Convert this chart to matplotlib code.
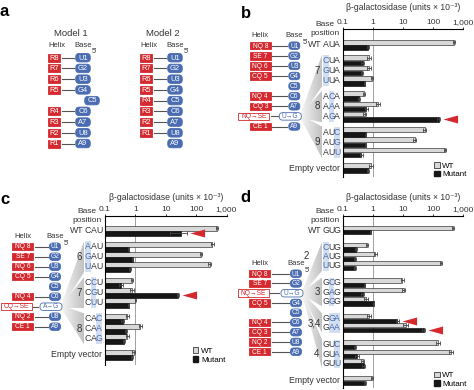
import matplotlib
matplotlib.use("Agg")
import matplotlib.pyplot as plt
import matplotlib.transforms as mtransforms
from matplotlib.patches import FancyBboxPatch, Rectangle, Polygon, Patch
from matplotlib.colors import LinearSegmentedColormap
from matplotlib.ticker import NullLocator
import numpy as np

plt.rcParams['font.family'] = ['Liberation Sans', 'DejaVu Sans']

W, H = 474, 390
RED = '#d42a2f'
BLUE = '#4a6cb1'
LIGHTBLUE = '#d3dff1'
DARK = '#333333'
WT_COLOR = '#d8d8d8'
MUT_COLOR = '#161616'

# ---------------- data ----------------
a_bases = ["U1", "G2", "U3", "G4", "C5", "C6", "A7", "U8", "A9"]
a_model1 = ["R8", "R7", "R6", "R5", "", "R4", "R3", "R2", "R1"]
a_model2 = ["R8", "R7", "R6", "R5", "R4", "R3", "R2", "R1", ""]

# panel b: start codon AUA, mutation U8 -> G
b_helix = ["NQ 8", "SE 7", "NQ 6", "CQ 5", "", "NQ 4", "CQ 3", "NQ→SE", "CE 1"]
b_bases = ["U1", "G2", "U3", "G4", "C5", "C6", "A7", "U→G", "A9"]
b_codons = ["AUA", "CUA", "GUA", "UUA", "ACA", "AAA", "AGA", "AUC", "AUG", "AUU", "Empty vector"]
b_groups = ["WT", "7", "7", "7", "8", "8", "8", "9", "9", "9", "EV"]
b_wt = [490, 0.74, 0.74, 0.93, 0.50, 1.47, 0.53, 53, 24.5, 245, 0.88]
b_wt_err = [40, 0.10, 0.10, 0.07, 0.05, 0.20, 0.05, 5, 2.5, 20, 0.12]
b_mut = [0.68, 0.46, 0.44, 0.53, 0.34, 0.60, 155, 0.57, 0.57, 0.41, 0.68]
b_mut_err = [0.04, 0.06, 0.04, 0.03, 0.03, 0.06, 15, 0.03, 0.03, 0.05, 0.05]
b_arrows = [6]
b_hilite = {"7": [0], "8": [1], "9": [2]}

# panel c: start codon CAU, mutation A7 -> G
c_helix = ["NQ 8", "SE 7", "NQ 6", "CQ 5", "", "NQ 4", "CQ→SE", "NQ 2", "CE 1"]
c_bases = ["U1", "G2", "U3", "G4", "C5", "C6", "A→G", "U8", "A9"]
c_codons = ["CAU", "AAU", "GAU", "UAU", "CCU", "CGU", "CUU", "CAC", "CAA", "CAG", "Empty vector"]
c_groups = ["WT", "6", "6", "6", "7", "7", "7", "8", "8", "8", "EV"]
c_wt = [490, 340, 147, 277, 0.78, 0.78, 1.0, 0.55, 1.47, 0.55, 0.88]
c_wt_err = [40, 35, 15, 35, 0.08, 0.10, 0.05, 0.05, 0.20, 0.06, 0.12]
c_mut = [31.6, 0.60, 0.81, 0.68, 0.34, 25.7, 0.60, 0.38, 0.49, 0.43, 0.78]
c_mut_err = [18, 0.03, 0.05, 0.04, 0.04, 2, 0.03, 0.04, 0.03, 0.03, 0.04]
c_arrows = [0, 5]
c_hilite = {"6": [0], "7": [1], "8": [2]}

# panel d: start codon GUG, mutation U3 -> G
d_helix = ["NQ 8", "SE 7", "NQ→SE", "CQ 5", "", "NQ 4", "CQ 3", "NQ 2", "CE 1"]
d_bases = ["U1", "G2", "U→G", "G4", "C5", "C6", "A7", "U8", "A9"]
d_codons = ["GUG", "CUG", "AUG", "UUG", "GCG", "GAG", "GGG", "GGA", "GAA", "GUC", "GUA", "GUU", "Empty vector"]
d_groups = ["WT", "2", "2", "2", "3", "3", "3", "3,4", "3,4", "4", "4", "4", "EV"]
d_wt = [465, 0.63, 1.2, 190, 9.5, 10.5, 0.60, 0.74, 12.3, 147, 410, 0.46, 0.93]
d_wt_err = [30, 0.06, 0.15, 15, 1.0, 1.2, 0.08, 0.12, 2.0, 18, 60, 0.05, 0.10]
d_mut = [0.84, 0.28, 0.25, 0.25, 0.53, 0.46, 1.05, 6.5, 49, 0.26, 0.29, 0.49, 0.55]
d_mut_err = [0.03, 0.02, 0.02, 0.02, 0.02, 0.05, 0.05, 0.6, 6, 0.02, 0.04, 0.05, 0.03]
d_arrows = [7, 8]
d_hilite = {"2": [0], "3": [1], "3,4": [1, 2], "4": [2]}

ticks = [0.1, 1, 10, 100, 1000]
tick_labels = ["0.1", "1", "10", "100", "1,000"]

# ---------------- figure ----------------
fig = plt.figure(figsize=(W / 100, H / 100), dpi=100)
ov = fig.add_axes([0, 0, 1, 1])
ov.axis('off')
wedge_cmap = LinearSegmentedColormap.from_list('w', ['#f6f6f6', '#c2c2c2'])


def box(x, y, w, h, text, face, edge, tc, pill=False, fs=4.8):
    style = "round,pad=0,rounding_size=3.4" if pill else "square,pad=0"
    ov.add_patch(FancyBboxPatch((x - w / 2, y - h / 2), w, h, boxstyle=style,
                                facecolor=face, edgecolor=edge, linewidth=0.6))
    ov.text(x, y + 0.3, text, color=tc, fontsize=fs, ha='center', va='center')


def draw_helix(cx_box, cx_pill, y0, step, helix, bases, mut_i):
    ov.text(cx_box, y0 - 10.5, "Helix", fontsize=5.5, color=DARK, ha='center', va='center')
    ov.text(cx_pill, y0 - 10.5, "Base", fontsize=5.5, color=DARK, ha='center', va='center')
    ov.text(cx_pill + 11, y0 - 3, "5'", fontsize=5.2, color=DARK, ha='center', va='center')
    for i, (hl, bs) in enumerate(zip(helix, bases)):
        y = y0 + i * step
        if i == mut_i:
            bx, bw, px, pw = cx_box - 6.5, 31, cx_pill - 4, 22
            box(bx, y, bw, 7.5, hl, 'white', RED, RED)
            box(px, y, pw, 7.5, bs, 'white', BLUE, BLUE, pill=True)
            ov.plot([bx + bw / 2 + 1.5, px - pw / 2 - 1.5], [y, y], color='#555555', lw=0.8)
            apex = (px + pw / 2 - 1, y)
        else:
            if hl:
                box(cx_box, y, 21, 7.5, hl, RED, RED, 'white')
                ov.plot([cx_box + 12, cx_pill - 7], [y, y], color='#555555', lw=0.8)
            box(cx_pill, y, 11, 7.5, bs, BLUE, BLUE, 'white', pill=True)
    return apex


def wedge(pts):
    poly = Polygon(pts, closed=True, facecolor='none', edgecolor='none')
    ov.add_patch(poly)
    xs = [p[0] for p in pts]
    yy = [p[1] for p in pts]
    grad = np.linspace(0, 1, 64).reshape(1, -1)
    im = ov.imshow(grad, cmap=wedge_cmap, extent=(min(xs), max(xs), max(yy), min(yy)),
                   aspect='auto', interpolation='bilinear', zorder=0.5)
    im.set_clip_path(poly)


def make_panel(l, t, w, h, unit, gap, first, codons, groups, wt, wt_err, mut, mut_err,
               arrows, hilite, apex, num_dx, leg_anchor):
    ax = fig.add_axes([l / W, 1 - (t + h) / H, w / W, h / H])
    ax.patch.set_alpha(0)
    ys = []
    pos = 0.0
    for i, g in enumerate(groups):
        if i > 0 and g != groups[i - 1]:
            pos += gap
        ys.append(pos)
        pos += 1
    ys = np.array(ys)
    top = -(first - t) / unit
    ax.set_xscale('log')
    ax.set_xlim(0.1, 1000)
    ax.set_ylim(top + h / unit, top)
    wt = np.array(wt)
    mut = np.array(mut)
    ekw = dict(ecolor='#444444', elinewidth=0.6, capsize=1.3, capthick=0.6)
    ax.barh(ys, wt - 0.1, left=0.1, height=0.46, xerr=wt_err, color=WT_COLOR,
            edgecolor='#3a3a3a', linewidth=0.5, error_kw=ekw, zorder=2)
    ax.barh(ys + 0.5, mut - 0.1, left=0.1, height=0.46, xerr=mut_err, color=MUT_COLOR,
            edgecolor=MUT_COLOR, linewidth=0.5, error_kw=ekw, zorder=2)
    ax.axvline(1, color='#a0a0a0', lw=0.7, zorder=1)

    tri = [(0, 0), (2, 0.55), (2, -0.55), (0, 0)]
    shift = mtransforms.ScaledTranslation(0.03, 0, fig.dpi_scale_trans)
    for i in arrows:
        ax.plot(mut[i] + mut_err[i], ys[i] + 0.5, marker=tri, ms=21, mew=0, color=RED,
                transform=ax.transData + shift, clip_on=False, zorder=3)

    for s in ['right', 'bottom']:
        ax.spines[s].set_visible(False)
    for s in ['top', 'left']:
        ax.spines[s].set_linewidth(0.8)
    ax.xaxis.tick_top()
    ax.set_xticks(ticks)
    ax.set_xticklabels(tick_labels)
    ax.xaxis.set_minor_locator(NullLocator())
    ax.tick_params(axis='x', length=1.8, width=0.7, labelsize=6.0, pad=0.4, colors=DARK)
    ax.set_yticks([])

    bt = mtransforms.blended_transform_factory(ax.transAxes, ax.transData)
    lw_ = 5.7
    for i, (cod, g) in enumerate(zip(codons, groups)):
        y = ys[i] + 0.25
        if g == "EV":
            ax.text(-3 / w, y, cod, transform=bt, fontsize=6.3, color=DARK,
                    ha='right', va='center', clip_on=False)
            continue
        for k, ch in enumerate(cod):
            cx = 3 + lw_ / 2 + (len(cod) - 1 - k) * lw_
            col = BLUE if (g in hilite and k in hilite[g]) else DARK
            ax.text(-cx / w, y, ch, transform=bt, fontsize=6.3, color=col,
                    ha='center', va='center', clip_on=False)
        if g == "WT":
            ax.text(-(3 + 3 * lw_ + 1.5) / w, y, "WT", transform=bt, fontsize=6.3,
                    color=DARK, ha='right', va='center', clip_on=False)

    def ypx(v):
        return t + (v - top) * unit

    for g, ks in hilite.items():
        idx = [i for i, gg in enumerate(groups) if gg == g]
        y0 = ys[idx[0]] - 0.3
        y1 = ys[idx[-1]] + 0.8
        for k in ks:
            cx = 3 + lw_ / 2 + (2 - k) * lw_
            ax.add_patch(Rectangle((-(cx + lw_ / 2) / w, y0), lw_ / w, y1 - y0, transform=bt,
                                   facecolor=LIGHTBLUE, edgecolor='none', clip_on=False, zorder=0))
        bx = l - 21
        wedge([(apex[0], apex[1] - 1.5), (bx, ypx(y0)), (bx, ypx(y1)), (apex[0], apex[1] + 1.5)])
        ax.text(-num_dx.get(g, 26) / w, np.mean(ys[idx]) + 0.25, g, transform=bt, fontsize=7,
                color=DARK, ha='center', va='center', clip_on=False)

    ov.text(l - 9, t - 4, "Base", fontsize=6, color=DARK, ha='right', va='center')
    ov.text(l - 3, t + 4.5, "position", fontsize=6, color=DARK, ha='right', va='center')

    handles = [Patch(facecolor=WT_COLOR, edgecolor='#3a3a3a', linewidth=0.6),
               Patch(facecolor=MUT_COLOR, edgecolor=MUT_COLOR)]
    ax.legend(handles, ["WT", "Mutant"], loc='lower right', bbox_to_anchor=leg_anchor,
              frameon=False, fontsize=5.8, handlelength=0.7, handleheight=0.7,
              handletextpad=0.3, labelspacing=0.15, borderpad=0, borderaxespad=0)
    return ax


# ---- panel a ----
for title, cxb, cxp, helix, shift5 in [("Model 1", 54, 83, a_model1, 9),
                                         ("Model 2", 146, 175, a_model2, 0)]:
    ov.text((cxb + cxp) / 2 + 2, 34, title, fontsize=6.8, color=DARK, ha='center', va='center')
    ov.text(cxb + 3, 45.5, "Helix", fontsize=5.5, color=DARK, ha='center', va='center')
    ov.text(cxp, 45.5, "Base", fontsize=5.5, color=DARK, ha='center', va='center')
    ov.text(cxp + 11, 51.5, "5'", fontsize=5.2, color=DARK, ha='center', va='center')
    for i, (hl, bs) in enumerate(zip(helix, a_bases)):
        y = 57.7 + i * 10.73
        if hl:
            box(cxb, y, 12.5, 8, hl, RED, RED, 'white', fs=5.4)
            ov.plot([cxb + 8, cxp - 9], [y, y], color='#555555', lw=0.8)
            box(cxp, y, 14.5, 8.5, bs, BLUE, BLUE, 'white', pill=True, fs=5.4)
        else:
            box(cxp + shift5, y, 14.5, 8.5, bs, BLUE, BLUE, 'white', pill=True, fs=5.4)

# ---- panels b, c, d ----
apex_b = draw_helix(260.3, 294.3, 45.7, 10.1, b_helix, b_bases, 7)
apex_c = draw_helix(22.7, 55, 246.7, 10.0, c_helix, c_bases, 6)
apex_d = draw_helix(259.7, 296, 273.7, 9.75, d_helix, d_bases, 2)

make_panel(343, 29, 120, 148, 10.2, 0.52, 42.3, b_codons, b_groups, b_wt, b_wt_err,
           b_mut, b_mut_err, b_arrows, b_hilite, apex_b, {}, (1.03, -0.01))
make_panel(105, 215.7, 121.5, 149.3, 10.0, 0.6, 228.3, c_codons, c_groups, c_wt, c_wt_err,
           c_mut, c_mut_err, c_arrows, c_hilite, apex_c, {}, (0.99, 0.01))
make_panel(343, 215.7, 120, 172.3, 9.23, 0.86, 227.7, d_codons, d_groups, d_wt, d_wt_err,
           d_mut, d_mut_err, d_arrows, d_hilite, apex_d, {"2": 37, "3,4": 29}, (1.03, 0.0))

title = "β-galactosidase (units × 10⁻³)"
ov.text(403, 7.5, title, fontsize=6.2, color=DARK, ha='center', va='center')
ov.text(166, 198, title, fontsize=6.2, color=DARK, ha='center', va='center')
ov.text(403, 198, title, fontsize=6.2, color=DARK, ha='center', va='center')

for lab, x, y in [("a", 4, 12), ("b", 246, 14), ("c", 5, 199), ("d", 245, 198)]:
    ov.text(x, y, lab, fontsize=12, fontweight='bold', color='black', ha='center', va='center')

ov.set_xlim(0, W)
ov.set_ylim(H, 0)

fig.savefig("out.png", dpi=100)
